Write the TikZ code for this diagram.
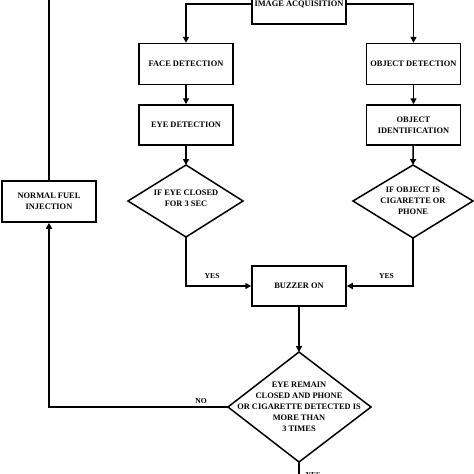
\documentclass[tikz,border=0pt]{standalone}
\usepackage{fontspec}
\setmainfont{Liberation Serif}
\usetikzlibrary{shapes.geometric,arrows.meta}
\begin{document}
\begin{tikzpicture}[x=1pt,y=-1pt,
  every node/.style={font=\bfseries\fontsize{8.4}{11}\selectfont, inner sep=0pt, align=center},
  box/.style={draw, line width=1.5pt, minimum width=94pt, minimum height=41pt},
  conn/.style={line width=1.5pt, -{Triangle[length=6pt,width=6pt]}},
  line/.style={line width=1.5pt},
  lab/.style={font=\bfseries\fontsize{7.6}{9}\selectfont}]
\useasboundingbox (0,0) rectangle (474,474);
\node[box, minimum height=40pt] (acq) at (299,4) {};
\node at (299,4.5) {IMAGE ACQUISITION};
\node[box] (face) at (186,64) {FACE DETECTION};
\node[box] (obj) at (413.5,64) {OBJECT DETECTION};
\node[box, minimum height=40pt] (eye) at (186,125) {EYE DETECTION};
\node[box, minimum height=40pt] (objid) at (413.5,125) {OBJECT\\IDENTIFICATION};
\node[box, minimum width=94pt, minimum height=41pt] (fuel) at (49,201.5) {NORMAL FUEL\\INJECTION};
\node[box, minimum height=40pt] (buzz) at (299,286) {BUZZER ON};
% diamonds drawn as paths
\coordinate (d1c) at (186,201);
\coordinate (d1t) at (186,165);
\coordinate (d1b) at (186,237);
\coordinate (d1l) at (128,201);
\coordinate (d1r) at (243,201);
\draw[line, line join=miter] (d1t) -- (d1r) -- (d1b) -- (d1l) -- cycle;
\node (d1) at (186,198) {IF EYE CLOSED\\FOR 3 SEC};
\coordinate (d2c) at (413,201);
\coordinate (d2t) at (413,165);
\coordinate (d2b) at (413,238);
\coordinate (d2l) at (353,201);
\coordinate (d2r) at (473,201);
\draw[line, line join=miter] (d2t) -- (d2r) -- (d2b) -- (d2l) -- cycle;
\node (d2) at (d2c) {IF OBJECT IS\\CIGARETTE OR\\PHONE};
\coordinate (d3c) at (299,407);
\coordinate (d3t) at (299,352);
\coordinate (d3b) at (299,462);
\coordinate (d3l) at (228,407);
\coordinate (d3r) at (371,407);
\draw[line, line join=miter] (d3t) -- (d3r) -- (d3b) -- (d3l) -- cycle;
\node (d3) at (d3c) {EYE REMAIN\\CLOSED AND PHONE\\OR CIGARETTE DETECTED IS\\MORE THAN\\3 TIMES};
% connectors
\draw[conn] (acq.west) -| (face.north);
\draw[conn] (acq.east) -| (obj.north);
\draw[conn] (face) -- (eye);
\draw[conn] (obj) -- (objid);
\draw[conn] (eye) -- (d1t);
\draw[conn] (objid) -- (d2t);
\draw[conn] (d1b) |- (buzz.west) node[lab, pos=0.7, above=7pt] {YES};
\draw[conn] (d2b) |- (buzz.east) node[lab, pos=0.7, above=7pt] {YES};
\draw[conn] (buzz) -- (d3t);
\coordinate (nocorner) at (49,407);
\draw[conn] (d3l) -- (nocorner) node[lab, pos=0.15, above=3pt] {NO} -- (fuel.south);
\coordinate (topend) at (49,-20);
\draw[line] (fuel.north) -- (topend);
\coordinate (botend) at (299,490);
\draw[line] (d3b) -- (botend);
\node[lab] (yes3) at (313,475) {YES};
\end{tikzpicture}
\end{document}
